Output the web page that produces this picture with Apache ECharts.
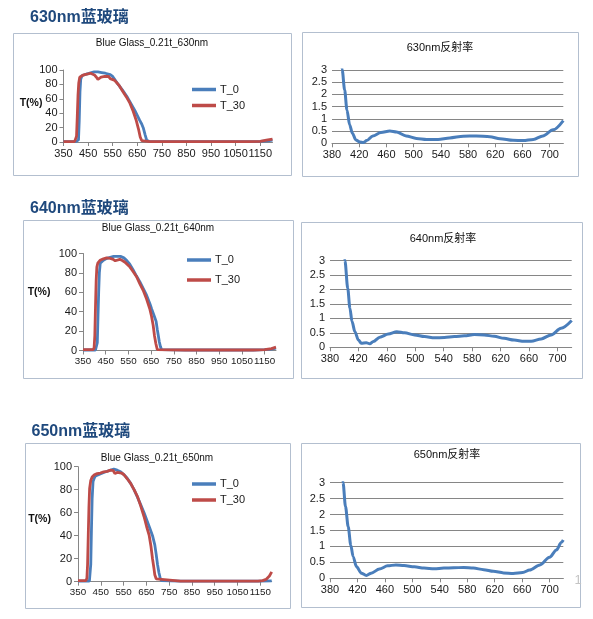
<!DOCTYPE html>
<html><head><meta charset="utf-8">
<script src="https://cdn.jsdelivr.net/npm/echarts@6/dist/echarts.min.js"></script>
<style>html,body{margin:0;padding:0;background:#fff;}#c{width:593px;height:619px;}</style>
</head><body><div id="c"></div>
<script>
// ---- Transmission data (wavelength nm, T %) ----
const wl630_T0  = [350,400,408,411,414,417,420,425,440,460,475,490,505,520,540,550,560,570,590,610,625,640,650,660,668,675,682,688,693,700,800,900,1000,1100,1150,1180,1200];
const t630_T0   = [0.5,0.5,0.6,3,30,70,87,92,94,96,97.5,97.5,96.5,95.5,93.5,91,86,81,72,62,53,44,37,30,25,19,10,3,0.8,0.5,0.5,0.5,0.5,0.5,0.8,1.5,2.5];
const wl630_T30 = [350,395,400,403,406,409,412,416,420,430,440,450,460,468,476,484,490,496,503,510,518,526,533,540,548,556,565,575,590,605,620,633,645,655,662,668,673,700,800,900,1000,1100,1150,1175,1200];
const t630_T30  = [0.5,0.5,1,8,35,65,82,90,92,93,94,94.5,95.5,96,93,90,87,86,90,92,91,88.5,91,88,86,86,83,79,71,63,54,43,31,18,7,2,0.6,0.5,0.5,0.5,0.5,0.5,1,2.5,4];

const wl640_T0  = [350,405,410,413,416,419,422,426,440,455,470,485,500,515,530,542,556,571,585,600,615,630,645,652,660,666,672,677,682,686,691,696,700,800,900,1000,1100,1150,1180,1200];
const t640_T0   = [0.5,0.5,1,8,35,60,80,90,93,95,96,97,97,97,95.5,93,89,83,77,71,64,57,48,43,38,34,30,22,15,9,4,1,0.5,0.5,0.5,0.5,0.5,0.8,1.5,2.5];
const wl640_T30 = [350,395,399,402,405,408,411,415,425,440,454,470,483,492,500,512,525,535,557,572,586,600,615,630,644,652,659,665,671,677,685,800,900,1000,1100,1150,1180,1200];
const t640_T30  = [0.8,0.8,3,15,45,72,86,90,93,94.5,95.5,95,94,92.5,93,94,92.5,91,86,81,76,69,62,53,43,35,26,15,7,1,0.5,0.5,0.5,0.5,0.5,1,2,3.5];

const wl650_T0  = [350,400,403,406,409,412,416,421,427,445,463,485,507,522,537,552,566,581,596,610,625,640,655,666,677,687,693,699,705,711,716,722,800,900,1000,1100,1150,1200];
const t650_T0   = [0.5,0.5,2,15,45,72,87,90,92,93.5,95,96.5,98,97,95.6,93,90,85.5,80,74,67,60,52,46,40,32,24,15,8,3,1,0.5,0.5,0.5,0.5,0.5,0.5,0.8];
const wl650_T30 = [350,385,389,392,395,398,401,406,412,422,434,448,463,478,493,505,512,517,522,530,541,552,566,581,596,611,625,640,651,662,670,677,683,687,693,699,800,900,1000,1100,1140,1160,1175,1190,1200];
const t650_T30  = [1,1,3,15,40,65,81,88,91,93,94,94.5,95.5,96,97,96.5,94,93,95,95.6,94.5,93,89.5,85.5,80,74,66,56.5,48,40.6,31,20,12,6,2.5,1,0.5,0.5,0.5,0.5,0.5,1,2,5,8.5];

// ---- Reflectance data (wavelength nm, R %) ----
const wlR630 = [392,395,398.6,402,406,410,415,421,426,431,440,452,465,475,489,504,519,536,553,573,592,612,627,646,661,676,690,705,720];
const rR630  = [3.7,3.0,2.18,1.36,0.75,0.41,0.14,0.05,0.03,0.11,0.30,0.44,0.50,0.46,0.30,0.20,0.16,0.16,0.22,0.29,0.30,0.27,0.19,0.12,0.11,0.16,0.30,0.55,0.93];
const wlR640 = [398,401,405,408,411,415,420,424,431,436,441,450,462,474,485,499,513,527,541,555,569,583,597,611,625,639,653,663,677,691,705,720];
const rR640  = [3.6,3.0,2.04,1.35,0.89,0.54,0.25,0.14,0.16,0.12,0.20,0.35,0.46,0.54,0.50,0.43,0.37,0.33,0.34,0.37,0.40,0.44,0.43,0.38,0.31,0.25,0.21,0.21,0.29,0.43,0.66,0.93];
const wlR650 = [397,399,402.6,406.5,410.3,413.7,418.5,425.7,433,440,452,464,476,488,503,517,532,546,560,575,589,604,618,633,647,661,671,686,700,710,717,720];
const rR650  = [3.4,3.0,2.25,1.62,1.04,0.68,0.37,0.16,0.09,0.16,0.29,0.39,0.42,0.40,0.36,0.32,0.30,0.32,0.33,0.34,0.32,0.27,0.22,0.17,0.15,0.18,0.26,0.42,0.66,0.89,1.12,1.2];

// ---- Tick labels ----
const tTicksX = [350,450,550,650,750,850,950,1050,1150];
const rTicksX = [380,420,460,500,540,580,620,660,700];

// ---- Text ----
const headings = ['630nm蓝玻璃','640nm蓝玻璃','650nm蓝玻璃'];
const tTitles = ['Blue Glass_0.21t_630nm','Blue Glass_0.21t_640nm','Blue Glass_0.21t_650nm'];
const rTitles = ['630nm反射率','640nm反射率','650nm反射率'];

const FONT = '"Liberation Sans", Arial, "Noto Sans CJK SC", sans-serif';
const BLUE = '#4a7ebb', RED = '#be4b48', AX = '#868686';
const zip = (xs, ys) => xs.map((x, i) => [x, ys[i]]);
const plain = v => String(v);

const grids = [
  {left:63.5, top:70,    width:209,   height:72},
  {left:332,  top:70,    width:231.3, height:73.3},
  {left:83,   top:253.5, width:193,   height:97},
  {left:330,  top:260.7, width:241.7, height:86.6},
  {left:78,   top:466.7, width:193.7, height:115},
  {left:330,  top:482.7, width:233.3, height:95.6}
].map(g => Object.assign({outerBoundsMode:'none', containLabel:false}, g));

const lbl = {fontSize:11, color:'#1a1a1a', fontFamily:FONT, hideOverlap:false, formatter:plain};
function tX(i, fs){return {type:'value', gridIndex:i, min:350, max:1200,
  axisLine:{show:true, lineStyle:{color:AX}}, splitLine:{show:false},
  axisTick:{show:true, length:4, customValues:tTicksX, lineStyle:{color:AX}},
  axisLabel:Object.assign({}, lbl, {customValues:tTicksX, margin:6, fontSize:fs})};}
function tY(i){return {type:'value', gridIndex:i, min:0, max:100, interval:20,
  axisLine:{show:true, lineStyle:{color:AX}}, splitLine:{show:false},
  axisTick:{show:true, length:4, lineStyle:{color:AX}},
  axisLabel:Object.assign({margin:6}, lbl)};}
function rX(i){return {type:'value', gridIndex:i, min:380, max:720,
  axisLine:{show:true, lineStyle:{color:AX}}, splitLine:{show:false},
  axisTick:{show:true, length:4, customValues:rTicksX, lineStyle:{color:AX}},
  axisLabel:Object.assign({customValues:rTicksX, margin:6}, lbl)};}
function rY(i){return {type:'value', gridIndex:i, min:0, max:3, interval:0.5,
  axisLine:{show:false}, axisTick:{show:false},
  splitLine:{show:true, lineStyle:{color:AX, width:1}},
  axisLabel:Object.assign({margin:5}, lbl)};}

function line(name, idx, data, color, w){
  return {type:'line', name:name, xAxisIndex:idx, yAxisIndex:idx, data:data,
    showSymbol:false, symbol:'none', clip:true, color:color,
    lineStyle:{color:color, width:w}, animation:false};
}
function rline(idx, data){
  const s = line('R'+idx, idx, data, BLUE, 3);
  s.smooth = 0.3; s.smoothMonotone = 'x';
  return s;
}

const series = [
  line('T_0', 0, zip(wl630_T0, t630_T0), BLUE, 2.8),
  line('T_30',0, zip(wl630_T30, t630_T30), RED, 2.8),
  rline(1, zip(wlR630, rR630)),
  line('T_0', 2, zip(wl640_T0, t640_T0), BLUE, 2.8),
  line('T_30',2, zip(wl640_T30, t640_T30), RED, 2.8),
  rline(3, zip(wlR640, rR640)),
  line('T_0', 4, zip(wl650_T0, t650_T0), BLUE, 2.8),
  line('T_30',4, zip(wl650_T30, t650_T30), RED, 2.8),
  rline(5, zip(wlR650, rR650))
];

function legend(left, top, gap){
  return {data:['T_0','T_30'], orient:'vertical', left:left, top:top, itemGap:gap,
    padding:0, icon:'rect', itemWidth:24, itemHeight:3.5, selectedMode:false,
    textStyle:{fontSize:11, color:'#1a1a1a', fontFamily:FONT, lineHeight:12, padding:[0,0,0,-1]}};
}

const boxes = [
  [13,33,278,142],[302,32,276,144],
  [23,220,270,158],[301,222,281,156],
  [25,443,265,165],[301,443,279,164]
];
const graphic = [];
boxes.forEach(b => graphic.push({type:'rect', silent:true, z:-1,
  shape:{x:b[0]+0.5, y:b[1]+0.5, width:b[2], height:b[3]},
  style:{fill:null, stroke:'#b3bfcf', lineWidth:1}}));
const txt = (t, x, y, o) => graphic.push({type:'text', silent:true, x:x, y:y,
  style:Object.assign({text:t, fontFamily:FONT, fontSize:11, fill:'#111',
    textAlign:'center', textVerticalAlign:'middle'}, o||{})});
[[30,18],[30,208.5],[31.5,431.5]].forEach((p,i)=>txt(headings[i], p[0], p[1],
  {fontSize:16, fontWeight:'bold', fill:'#1f497d', textAlign:'left'}));
[[152,43],[158,228.5],[157,458.5]].forEach((p,i)=>txt(tTitles[i], p[0], p[1], {fontSize:10}));
[[440,48],[443,238.5],[447,455]].forEach((p,i)=>txt(rTitles[i], p[0], p[1], {fontSize:11}));
[[31,103],[39,292.5],[39.5,519]].forEach(p=>txt('T(%)', p[0], p[1], {fontSize:10.5, fontWeight:'bold'}));
txt('1', 578, 580, {fontSize:13, fill:'#c4c4c4'});

const chart = echarts.init(document.getElementById('c'), null, {renderer:'canvas'});
chart.setOption({
  animation:false,
  backgroundColor:'#ffffff',
  grid:grids,
  xAxis:[tX(0, 11), rX(1), tX(2, 9.8), rX(3), tX(4, 9.8), rX(5)],
  yAxis:[tY(0), rY(1), tY(2), rY(3), tY(4), rY(5)],
  legend:[legend(192,83.5,4), legend(187,254,8), legend(192,478,4)],
  series:series,
  graphic:graphic
});
</script>
</body></html>
